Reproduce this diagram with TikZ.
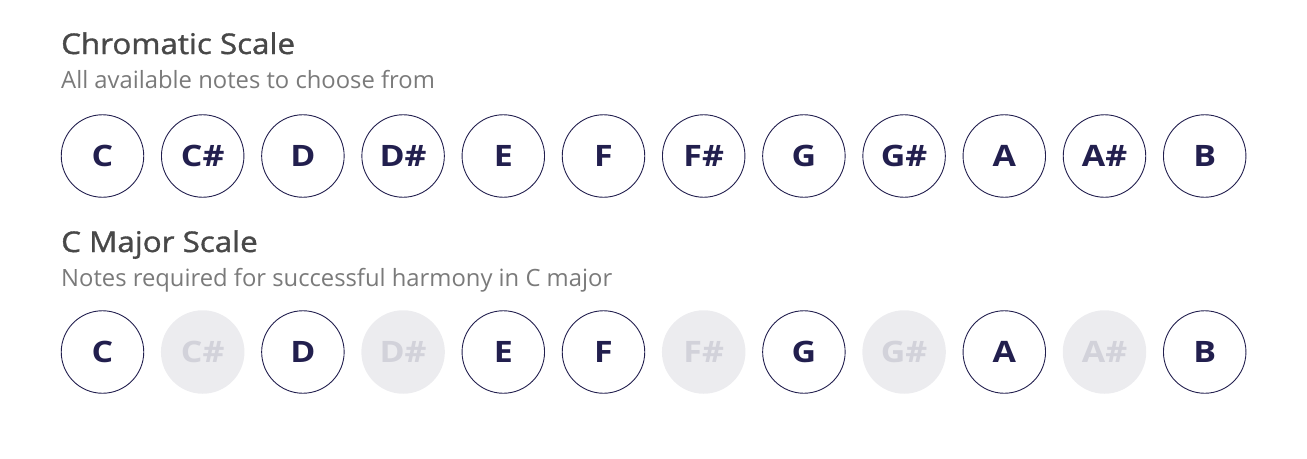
\documentclass[tikz,border=0pt]{standalone}
\usepackage{fontspec}
\setmainfont{Open Sans}
\newfontfamily\headfont{Open Sans}[FakeBold=1.2,FakeStretch=1.1]
\newfontfamily\notefont{Open Sans Bold}[FakeStretch=1.15]
\definecolor{navy}{HTML}{221F4E}
\definecolor{headgray}{HTML}{484848}
\definecolor{subgray}{HTML}{7A7A7A}
\definecolor{offfill}{HTML}{ECECEF}
\definecolor{offtext}{HTML}{D2D2DA}
\tikzset{
  heading/.style={anchor=base west, inner sep=0pt, text=headgray, font=\headfont\fontsize{28.5}{30}\selectfont},
  subheading/.style={anchor=base west, inner sep=0pt, text=subgray, font=\fontsize{23.8}{26}\selectfont},
  noteon/.style={circle, draw=navy, line width=0.9pt, minimum size=82.5pt, inner sep=0pt, text=navy, font=\notefont\fontsize{29.5}{30}\selectfont},
  noteoff/.style={circle, fill=offfill, minimum size=83.5pt, inner sep=0pt, text=offtext, font=\notefont\fontsize{29.5}{30}\selectfont},
}
\begin{document}
\begin{tikzpicture}[x=1pt,y=-1pt]
\useasboundingbox (0,0) rectangle (1307,458);
\node[heading] (h1) at (61,54) {Chromatic Scale};
\node[subheading] (s1) at (61,88) {All available notes to choose from};
\node[heading] (h2) at (61,252) {C Major Scale};
\node[subheading] (s2) at (61,286) {Notes required for successful harmony in C major};
\foreach \n [count=\i from 0] in {C,C\#,D,D\#,E,F,F\#,G,G\#,A,A\#,B} {
  \node[noteon] (a\i) at ({102.5+\i*100.2},156) {\n};
}
\foreach \n/\s [count=\i from 0] in {C/noteon,C\#/noteoff,D/noteon,D\#/noteoff,E/noteon,F/noteon,F\#/noteoff,G/noteon,G\#/noteoff,A/noteon,A\#/noteoff,B/noteon} {
  \node[\s] (b\i) at ({102.5+\i*100.2},352) {\n};
}
\end{tikzpicture}
\end{document}
